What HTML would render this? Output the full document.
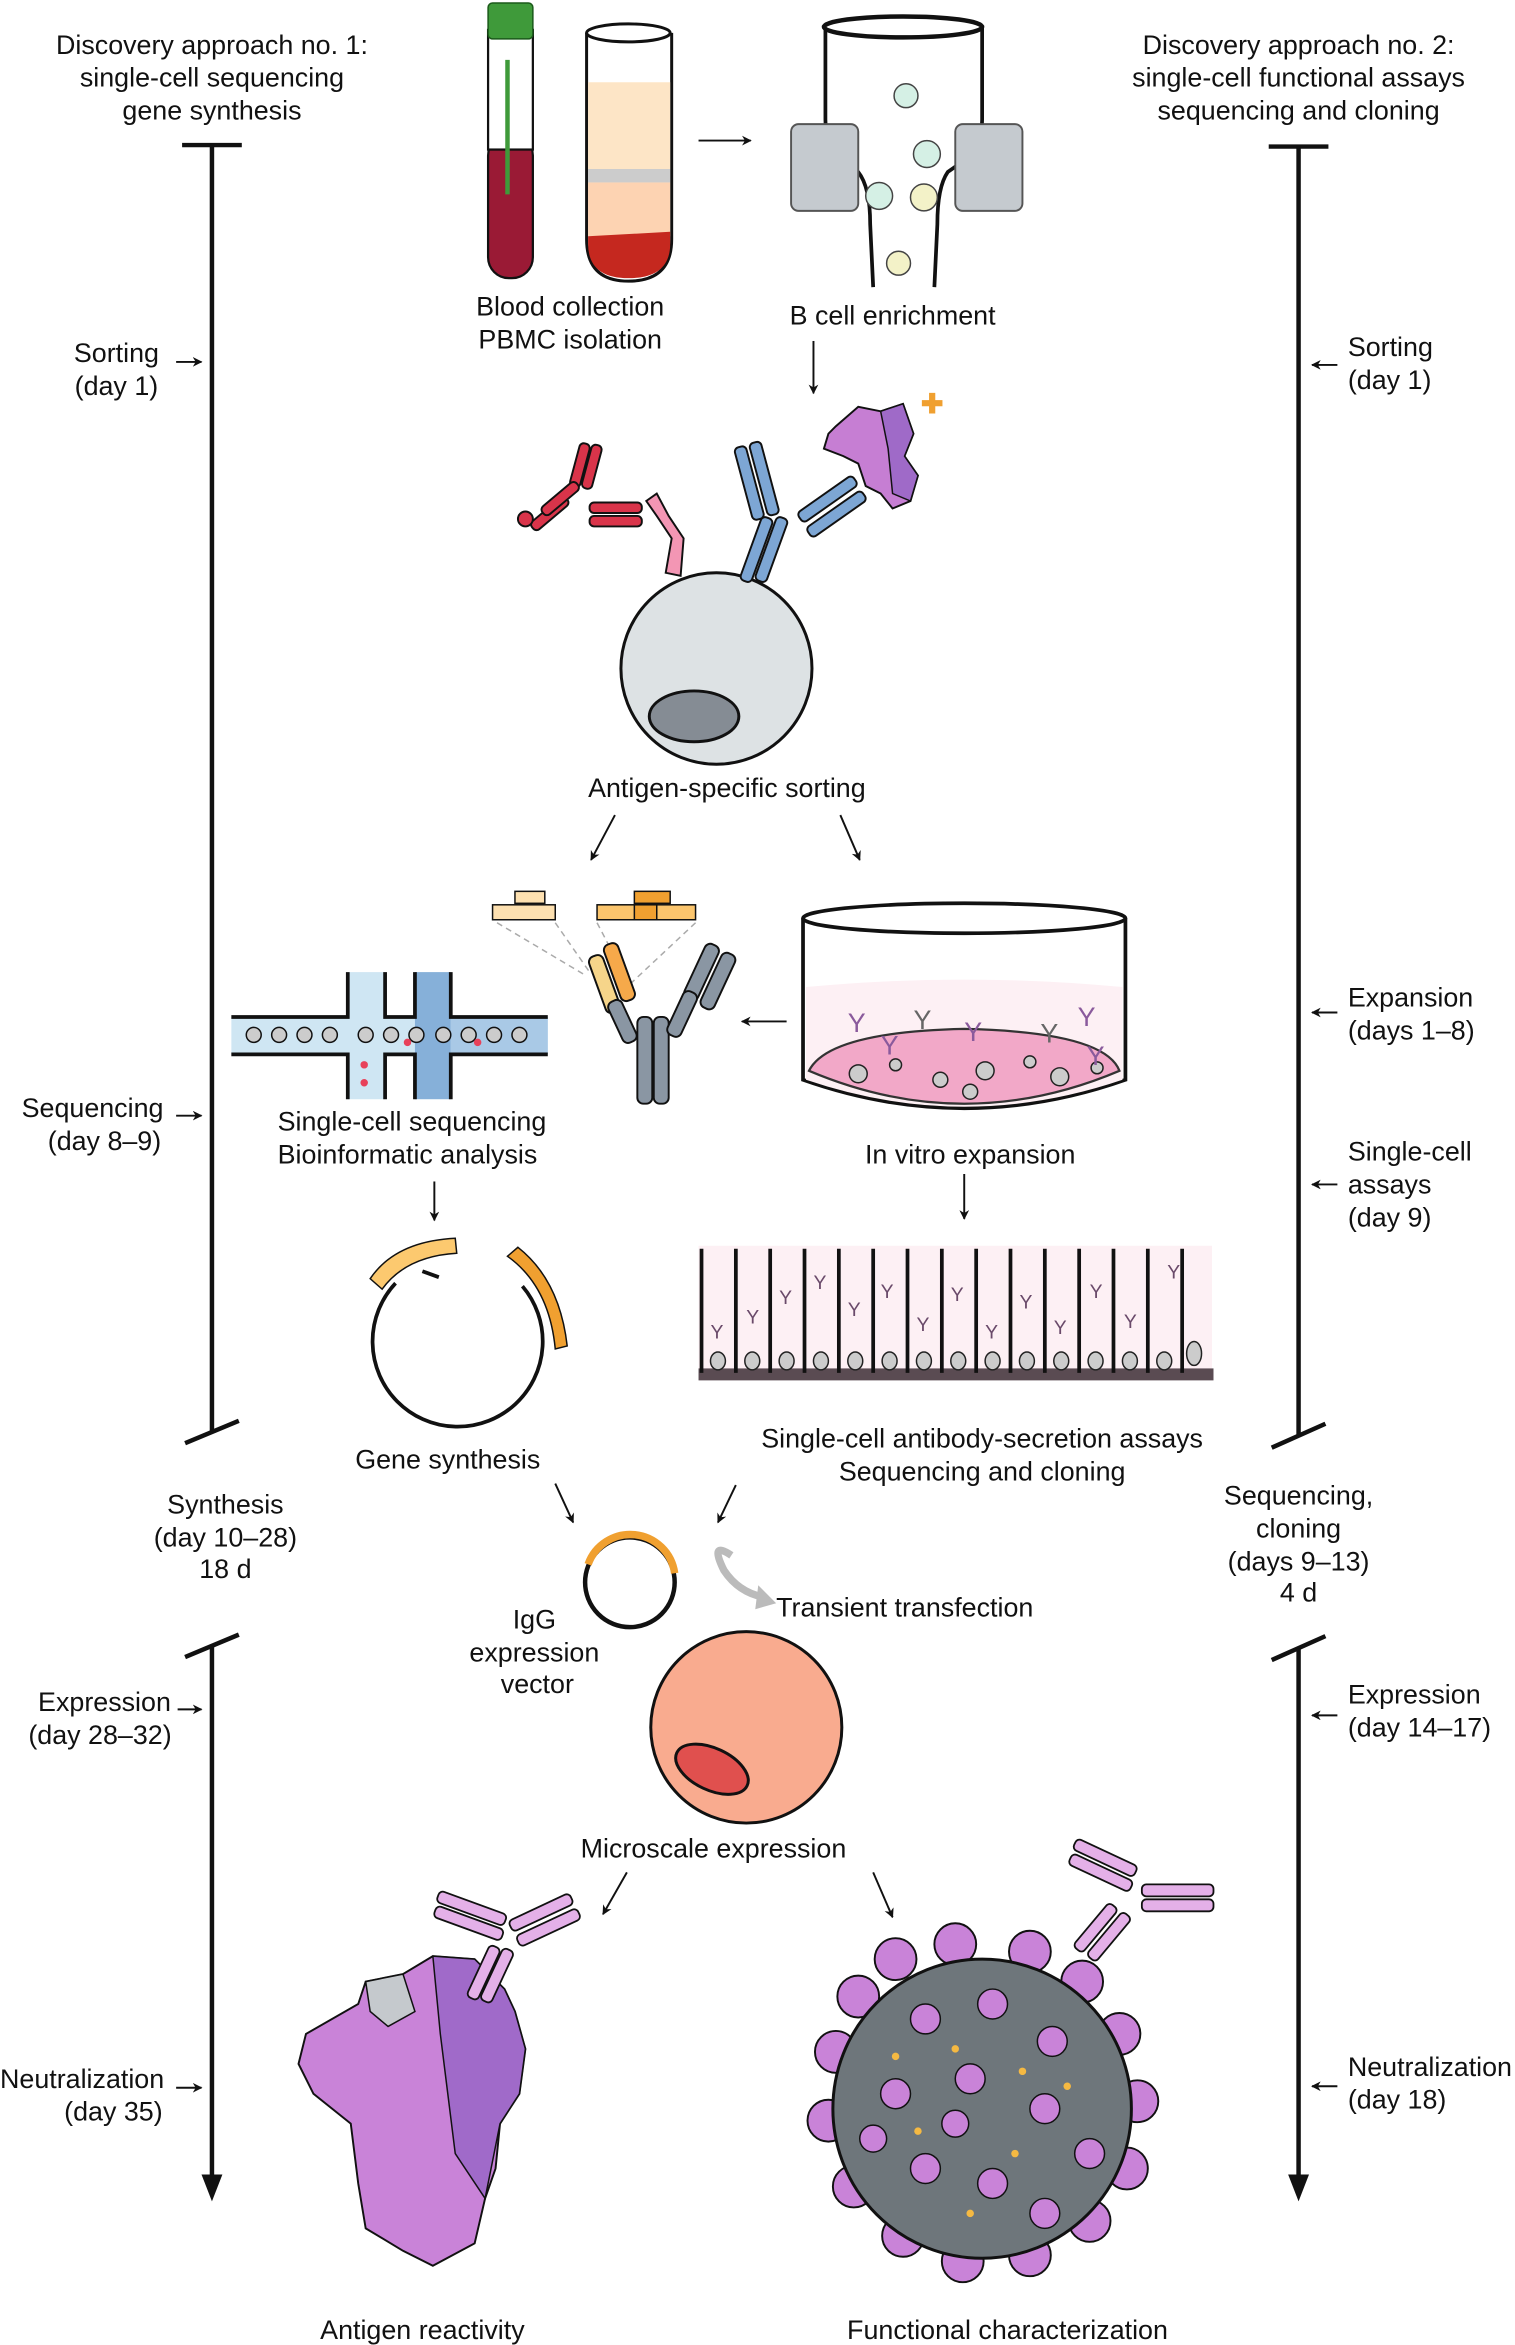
<!DOCTYPE html>
<html><head><meta charset="utf-8"><style>
html,body{margin:0;padding:0;background:#fff;}
svg{display:block;}
text{font-family:"Liberation Sans",sans-serif;font-size:18px;fill:#111;}
</style></head><body>
<svg width="1515" height="2345" viewBox="0 0 1015 1568" preserveAspectRatio="none" xmlns="http://www.w3.org/2000/svg">
<defs>
<marker id="bh" viewBox="0 0 10 10" refX="9" refY="5" markerWidth="5" markerHeight="5" orient="auto"><path d="M0,0 L10,5 L0,10 L3,5 z" fill="#111"/></marker>
</defs>

<g stroke="#111" stroke-width="3" fill="none">
<line x1="122" y1="97" x2="162" y2="97"/>
<line x1="142" y1="97" x2="142" y2="957"/>
<line x1="124" y1="965" x2="160" y2="950"/>
<line x1="124" y1="1108" x2="160" y2="1093"/>
<line x1="142" y1="1100" x2="142" y2="1458"/>
<line x1="850" y1="98" x2="890" y2="98"/>
<line x1="870" y1="98" x2="870" y2="960"/>
<line x1="852" y1="968" x2="888" y2="952"/>
<line x1="852" y1="1110" x2="888" y2="1094"/>
<line x1="870" y1="1102" x2="870" y2="1458"/>
</g>
<path d="M135,1454 L142,1472 L149,1454 z" fill="#111"/>
<path d="M863,1454 L870,1472 L877,1454 z" fill="#111"/>

<g stroke="#111" stroke-width="1.3" marker-end="url(#bh)">
<line x1="118" y1="242" x2="135" y2="242"/>
<line x1="118" y1="746" x2="135" y2="746"/>
<line x1="119" y1="1143" x2="135" y2="1143"/>
<line x1="118" y1="1396" x2="135" y2="1396"/>
<line x1="896" y1="244" x2="879" y2="244"/>
<line x1="896" y1="677" x2="879" y2="677"/>
<line x1="896" y1="792" x2="879" y2="792"/>
<line x1="896" y1="1147" x2="879" y2="1147"/>
<line x1="896" y1="1395" x2="879" y2="1395"/>
<line x1="468" y1="94" x2="503" y2="94"/>
<line x1="545" y1="228" x2="545" y2="263"/>
<line x1="412" y1="545" x2="396" y2="575"/>
<line x1="563" y1="545" x2="576" y2="575"/>
<line x1="527" y1="683" x2="497" y2="683"/>
<line x1="291" y1="790" x2="291" y2="816"/>
<line x1="646" y1="785" x2="646" y2="815"/>
<line x1="372" y1="992" x2="384" y2="1018"/>
<line x1="493" y1="993" x2="481" y2="1018"/>
<line x1="420" y1="1252" x2="404" y2="1280"/>
<line x1="585" y1="1252" x2="598" y2="1282"/>
</g>

<g text-anchor="middle">
<text x="142" y="36">Discovery approach no. 1:</text>
<text x="142" y="58">single-cell sequencing</text>
<text x="142" y="80">gene synthesis</text>
<text x="870" y="36">Discovery approach no. 2:</text>
<text x="870" y="58">single-cell functional assays</text>
<text x="870" y="80">sequencing and cloning</text>
<text x="78" y="242">Sorting</text><text x="78" y="264">(day 1)</text>
<text x="62" y="747">Sequencing</text><text x="70" y="769">(day 8–9)</text>
<text x="151" y="1012">Synthesis</text><text x="151" y="1034">(day 10–28)</text><text x="151" y="1055">18 d</text>
<text x="70" y="1144">Expression</text><text x="67" y="1166">(day 28–32)</text>
<text x="55" y="1396">Neutralization</text><text x="76" y="1418">(day 35)</text>
<text x="870" y="1006">Sequencing,</text><text x="870" y="1028">cloning</text><text x="870" y="1050">(days 9–13)</text><text x="870" y="1071">4 d</text>
<text x="382" y="211">Blood collection</text><text x="382" y="233">PBMC isolation</text>
<text x="598" y="217">B cell enrichment</text>
<text x="487" y="533">Antigen-specific sorting</text>
<text x="642" y="657">CD40L/IL-21/BAFF</text>
<text x="276" y="756">Single-cell sequencing</text><text x="273" y="778">Bioinformatic analysis</text>
<text x="650" y="778">In vitro expansion</text>
<text x="300" y="982">Gene synthesis</text>
<text x="658" y="968">Single-cell antibody-secretion assays</text><text x="658" y="990">Sequencing and cloning</text>
<text x="358" y="1089">IgG</text><text x="358" y="1111">expression</text><text x="360" y="1132">vector</text>
<text x="515" y="1144">CHO</text><text x="515" y="1166">cells</text>
<text x="478" y="1242">Microscale expression</text>
<text x="283" y="1564">Antigen reactivity</text>
<text x="675" y="1564">Functional characterization</text>
</g>
<g>
<text x="903" y="238">Sorting</text><text x="903" y="260">(day 1)</text>
<text x="903" y="673">Expansion</text><text x="903" y="695">(days 1–8)</text>
<text x="903" y="776">Single-cell</text><text x="903" y="798">assays</text><text x="903" y="820">(day 9)</text>
<text x="903" y="1139">Expression</text><text x="903" y="1161">(day 14–17)</text>
<text x="903" y="1388">Neutralization</text><text x="903" y="1410">(day 18)</text>
<text x="520" y="1081">Transient transfection</text>
</g>

<rect x="327" y="90" width="30" height="96" rx="14" fill="#9a1a35" stroke="#111" stroke-width="1.5"/>
<rect x="327" y="20" width="30" height="80" fill="#fff" stroke="#111" stroke-width="1.5"/>
<rect x="327" y="2" width="30" height="24" rx="3" fill="#3f9a3a" stroke="#1b5a1a" stroke-width="1"/>
<line x1="340" y1="40" x2="340" y2="130" stroke="#3f9a3a" stroke-width="3"/>
<path d="M393,22 L393,160 Q393,188 421,188 Q450,188 450,160 L450,22" fill="#fff" stroke="#111" stroke-width="2"/>
<rect x="394" y="55" width="55" height="58" fill="#fde5c6"/>
<rect x="394" y="113" width="55" height="9" fill="#ccc"/>
<rect x="394" y="122" width="55" height="36" fill="#fdd3b2"/>
<path d="M394,158 L449,155 L449,163 Q449,186 421,186 Q394,186 394,163z" fill="#c5281f"/>
<ellipse cx="421" cy="22" rx="28" ry="6" fill="#fff" stroke="#111" stroke-width="2"/>

<path d="M553,18 L553,80 Q553,100 575,115 Q583,125 583,150 L585,192 M658,18 L658,80 Q658,100 635,115 Q628,125 628,150 L626,192" fill="none" stroke="#111" stroke-width="2.5"/>
<ellipse cx="605" cy="18" rx="53" ry="7" fill="#fff" stroke="#111" stroke-width="3"/>
<rect x="530" y="83" width="45" height="58" rx="5" fill="#c5cacf" stroke="#555" stroke-width="1.3"/>
<rect x="640" y="83" width="45" height="58" rx="5" fill="#c5cacf" stroke="#555" stroke-width="1.3"/>
<g stroke="#444" stroke-width="1">
<circle cx="607" cy="64" r="8" fill="#d5f0e5"/><circle cx="621" cy="103" r="9" fill="#d5f0e5"/>
<circle cx="589" cy="131" r="9" fill="#d5f0e5"/><circle cx="619" cy="132" r="9" fill="#f3f2c8"/>
<circle cx="602" cy="176" r="8" fill="#f3f2c8"/>
</g>

<circle cx="480" cy="447" r="64" fill="#dde2e4" stroke="#111" stroke-width="2"/>
<ellipse cx="465" cy="479" rx="30" ry="17" fill="#858c94" stroke="#111" stroke-width="2"/>
<path d="M446,383 L450,360 L440,345 L433,335 L440,330 L448,345 L458,360 L456,385z" fill="#f396b4" stroke="#111" stroke-width="1.3"/>
<g fill="#d9344a" stroke="#111" stroke-width="1.3">
<rect x="385" y="296" width="7" height="30" rx="3" transform="rotate(15 388 311)"/>
<rect x="393" y="297" width="7" height="30" rx="3" transform="rotate(15 396 312)"/>
<rect x="353" y="340" width="30" height="7" rx="3" transform="rotate(-40 368 343)"/>
<rect x="360" y="330" width="30" height="7" rx="3" transform="rotate(-40 375 333)"/>
<rect x="395" y="336" width="35" height="7" rx="3"/>
<rect x="395" y="345" width="35" height="7" rx="3"/>
<circle cx="352" cy="347" r="5"/>
</g>
<g fill="#7da6d4" stroke="#111" stroke-width="1.3">
<rect x="498" y="298" width="8" height="50" rx="3" transform="rotate(-15 502 323)"/>
<rect x="508" y="295" width="8" height="50" rx="3" transform="rotate(-15 512 320)"/>
<rect x="503" y="345" width="8" height="45" rx="3" transform="rotate(20 507 367)"/>
<rect x="513" y="345" width="8" height="45" rx="3" transform="rotate(20 517 367)"/>
<rect x="532" y="330" width="45" height="8" rx="3" transform="rotate(-35 554 334)"/>
<rect x="538" y="340" width="45" height="8" rx="3" transform="rotate(-35 560 344)"/>
</g>
<path d="M560,285 L575,272 L590,275 L605,270 L612,290 L606,305 L615,318 L610,335 L598,340 L590,330 L580,325 L575,310 L565,305 L552,300 L555,290z" fill="#c67ed3" stroke="#111" stroke-width="1.3"/>
<path d="M590,275 L605,270 L612,290 L606,305 L615,318 L610,335 L598,330 L595,300z" fill="#9f6ac8" stroke="#111" stroke-width="1"/>
<text x="617" y="276" style="fill:#f0a030;font-size:18px;font-weight:bold">✚</text>

<g stroke="#aaa" stroke-dasharray="4 3" fill="none"><line x1="333" y1="617" x2="392" y2="652"/><line x1="372" y1="617" x2="395" y2="650"/><line x1="400" y1="617" x2="412" y2="640"/><line x1="466" y1="617" x2="420" y2="660"/></g>
<g stroke="#111" stroke-width="1">
<rect x="330" y="605" width="42" height="10" fill="#fde0b0"/><rect x="345" y="596" width="20" height="8" fill="#fde0b0"/>
<rect x="400" y="605" width="66" height="10" fill="#fbc56d"/><rect x="425" y="605" width="15" height="10" fill="#f0a030"/><rect x="425" y="596" width="24" height="8" fill="#f0a030"/>
</g>
<g fill="#8a96a3" stroke="#111" stroke-width="1.3">
<rect x="427" y="680" width="10" height="58" rx="4"/><rect x="438" y="680" width="10" height="58" rx="4"/>
<rect x="400" y="638" width="10" height="40" rx="4" transform="rotate(-20 405 658)" fill="#f6d58a"/>
<rect x="410" y="630" width="10" height="40" rx="4" transform="rotate(-20 415 650)" fill="#f6a94a"/>
<rect x="412" y="668" width="10" height="30" rx="4" transform="rotate(-25 417 683)"/>
<rect x="465" y="630" width="10" height="40" rx="4" transform="rotate(25 470 650)"/>
<rect x="476" y="636" width="10" height="40" rx="4" transform="rotate(25 481 656)"/>
<rect x="452" y="662" width="10" height="32" rx="4" transform="rotate(25 457 678)"/>
</g>

<rect x="155" y="680" width="212" height="25" fill="#cfe6f3"/>
<rect x="233" y="650" width="25" height="85" fill="#cfe6f3"/>
<rect x="278" y="650" width="24" height="85" fill="#86b0d9"/>
<rect x="302" y="680" width="65" height="25" fill="#a9c9e6"/>
<g stroke="#111" stroke-width="2.5" fill="none">
<path d="M155,680 L233,680 L233,650 M258,650 L258,680 L278,680 L278,650 M302,650 L302,680 L367,680"/>
<path d="M155,705 L233,705 L233,735 M258,735 L258,705 L278,705 L278,735 M302,735 L302,705 L367,705"/>
</g>
<g fill="#ccc" stroke="#111" stroke-width="1">
<circle cx="170" cy="692" r="5"/><circle cx="187" cy="692" r="5"/><circle cx="204" cy="692" r="5"/><circle cx="221" cy="692" r="5"/><circle cx="245" cy="692" r="5"/><circle cx="262" cy="692" r="5"/><circle cx="279" cy="692" r="5"/><circle cx="297" cy="692" r="5"/><circle cx="314" cy="692" r="5"/><circle cx="331" cy="692" r="5"/><circle cx="348" cy="692" r="5"/>
</g>
<g fill="#e8415a"><circle cx="244" cy="712" r="2.5"/><circle cx="244" cy="724" r="2.5"/><circle cx="273" cy="697" r="2.5"/><circle cx="320" cy="697" r="2.5"/></g>

<path d="M538,614 L538,722 Q646,760 754,722 L754,614" fill="#fff" stroke="#111" stroke-width="2.5"/>
<path d="M540,660 Q646,650 752,660 L752,722 Q646,758 540,722z" fill="#fdf0f4"/>
<path d="M542,716 Q555,690 646,688 Q740,690 750,716 Q646,760 542,716z" fill="#f2a8c8" stroke="#333" stroke-width="1.5"/>
<g fill="#ccc" stroke="#222"><circle cx="575" cy="718" r="6"/><circle cx="600" cy="712" r="4"/><circle cx="630" cy="722" r="5"/><circle cx="660" cy="716" r="6"/><circle cx="690" cy="710" r="4"/><circle cx="710" cy="720" r="6"/><circle cx="735" cy="714" r="4"/><circle cx="650" cy="730" r="5"/></g>
<ellipse cx="646" cy="614" rx="108" ry="10" fill="#fff" stroke="#111" stroke-width="2.5"/>
<g><text x="568" y="690" style="fill:#8a5a9c">Y</text><text x="590" y="705" style="fill:#8a5a9c">Y</text><text x="612" y="688" style="fill:#666">Y</text><text x="646" y="696" style="fill:#8a5a9c">Y</text><text x="697" y="697" style="fill:#666">Y</text><text x="722" y="686" style="fill:#8a5a9c">Y</text><text x="728" y="712" style="fill:#8a5a9c">Y</text></g>

<path d="M265,858 A57,57 0 1,0 350,860" fill="none" stroke="#111" stroke-width="2.5"/>
<path d="M283,850 L294,854" stroke="#111" stroke-width="2.5"/>
<path d="M248,855 Q265,830 305,828 L306,838 Q272,840 256,862z" fill="#fcc96f" stroke="#111" stroke-width="1"/>
<path d="M340,840 Q368,860 372,902 L380,900 Q375,856 347,834z" fill="#f0a030" stroke="#111" stroke-width="1"/>

<rect x="468" y="833" width="344" height="86" fill="#fdf0f4"/>
<rect x="468" y="915" width="345" height="8" fill="#5a4b52"/>
<g stroke="#111" stroke-width="2.5">
<line x1="470" y1="835" x2="470" y2="918"/><line x1="493" y1="835" x2="493" y2="918"/><line x1="516" y1="835" x2="516" y2="918"/><line x1="539" y1="835" x2="539" y2="918"/><line x1="562" y1="835" x2="562" y2="918"/><line x1="585" y1="835" x2="585" y2="918"/><line x1="608" y1="835" x2="608" y2="918"/><line x1="631" y1="835" x2="631" y2="918"/><line x1="654" y1="835" x2="654" y2="918"/><line x1="677" y1="835" x2="677" y2="918"/><line x1="700" y1="835" x2="700" y2="918"/><line x1="723" y1="835" x2="723" y2="918"/><line x1="746" y1="835" x2="746" y2="918"/><line x1="769" y1="835" x2="769" y2="918"/><line x1="792" y1="835" x2="792" y2="918"/>
</g>
<g fill="#ccc" stroke="#222"><ellipse cx="481" cy="910" rx="5" ry="6"/><ellipse cx="504" cy="910" rx="5" ry="6"/><ellipse cx="527" cy="910" rx="5" ry="6"/><ellipse cx="550" cy="910" rx="5" ry="6"/><ellipse cx="573" cy="910" rx="5" ry="6"/><ellipse cx="596" cy="910" rx="5" ry="6"/><ellipse cx="619" cy="910" rx="5" ry="6"/><ellipse cx="642" cy="910" rx="5" ry="6"/><ellipse cx="665" cy="910" rx="5" ry="6"/><ellipse cx="688" cy="910" rx="5" ry="6"/><ellipse cx="711" cy="910" rx="5" ry="6"/><ellipse cx="734" cy="910" rx="5" ry="6"/><ellipse cx="757" cy="910" rx="5" ry="6"/><ellipse cx="780" cy="910" rx="5" ry="6"/><ellipse cx="800" cy="905" rx="5" ry="8"/></g>
<g><text x="476" y="895" style="fill:#6a4a6a;font-size:13px">Y</text><text x="500" y="885" style="fill:#6a4a6a;font-size:13px">Y</text><text x="522" y="872" style="fill:#6a4a6a;font-size:13px">Y</text><text x="545" y="862" style="fill:#6a4a6a;font-size:13px">Y</text><text x="568" y="880" style="fill:#6a4a6a;font-size:13px">Y</text><text x="590" y="868" style="fill:#6a4a6a;font-size:13px">Y</text><text x="614" y="890" style="fill:#6a4a6a;font-size:13px">Y</text><text x="637" y="870" style="fill:#6a4a6a;font-size:13px">Y</text><text x="660" y="895" style="fill:#6a4a6a;font-size:13px">Y</text><text x="683" y="875" style="fill:#6a4a6a;font-size:13px">Y</text><text x="706" y="892" style="fill:#6a4a6a;font-size:13px">Y</text><text x="730" y="868" style="fill:#6a4a6a;font-size:13px">Y</text><text x="753" y="888" style="fill:#6a4a6a;font-size:13px">Y</text><text x="782" y="855" style="fill:#6a4a6a;font-size:13px">Y</text></g>

<circle cx="422" cy="1058" r="30" fill="none" stroke="#111" stroke-width="3"/>
<path d="M394,1046 A30,30 0 0,1 452,1052" fill="none" stroke="#f0a030" stroke-width="5"/>
<path d="M490,1040 Q475,1030 485,1050 Q495,1065 512,1068" fill="none" stroke="#bbb" stroke-width="5"/>
<path d="M508,1060 L520,1072 L506,1076z" fill="#bbb"/>

<circle cx="500" cy="1155" r="64" fill="#f9ab8f" stroke="#111" stroke-width="2"/>
<ellipse cx="477" cy="1183" rx="26" ry="14" fill="#e0504e" stroke="#111" stroke-width="2" transform="rotate(25 477 1183)"/>

<path d="M205,1360 L240,1340 L245,1325 L270,1320 L290,1308 L318,1310 L338,1330 L345,1345 L352,1370 L348,1400 L335,1420 L332,1450 L325,1470 L318,1500 L290,1515 L270,1505 L245,1490 L240,1460 L235,1420 L210,1400 L200,1380z" fill="#c983d8" stroke="#111" stroke-width="1.3"/>
<path d="M290,1308 L318,1310 L338,1330 L345,1345 L352,1370 L348,1400 L335,1420 L325,1470 L305,1440 L300,1400 L295,1360z" fill="#a06ac9" stroke="#111" stroke-width="1"/>
<path d="M245,1325 L270,1320 L278,1345 L260,1355 L248,1345z" fill="#c5c9cd" stroke="#111" stroke-width="1"/>
<g fill="#e4b0e8" stroke="#111" stroke-width="1.2">
<rect x="320" y="1300" width="8" height="38" rx="3" transform="rotate(25 324 1319)"/>
<rect x="329" y="1302" width="8" height="38" rx="3" transform="rotate(25 333 1321)"/>
<rect x="292" y="1272" width="48" height="8" rx="3" transform="rotate(20 316 1276)"/>
<rect x="290" y="1282" width="48" height="8" rx="3" transform="rotate(20 314 1286)"/>
<rect x="340" y="1275" width="45" height="8" rx="3" transform="rotate(-25 362 1279)"/>
<rect x="345" y="1285" width="45" height="8" rx="3" transform="rotate(-25 367 1289)"/>
</g>

<g fill="#c983d8" stroke="#111" stroke-width="1.3">
<circle cx="600" cy="1310" r="14"/><circle cx="640" cy="1300" r="14"/><circle cx="690" cy="1305" r="14"/><circle cx="725" cy="1325" r="14"/><circle cx="750" cy="1360" r="14"/><circle cx="762" cy="1405" r="14"/><circle cx="755" cy="1450" r="14"/><circle cx="730" cy="1485" r="14"/><circle cx="690" cy="1508" r="14"/><circle cx="645" cy="1512" r="14"/><circle cx="605" cy="1495" r="14"/><circle cx="572" cy="1462" r="14"/><circle cx="555" cy="1418" r="14"/><circle cx="560" cy="1372" r="14"/><circle cx="575" cy="1335" r="14"/>
</g>
<circle cx="658" cy="1410" r="100" fill="#6e767b" stroke="#111" stroke-width="2"/>
<g fill="#c983d8" stroke="#111" stroke-width="1">
<circle cx="620" cy="1350" r="10"/><circle cx="665" cy="1340" r="10"/><circle cx="705" cy="1365" r="10"/><circle cx="600" cy="1400" r="10"/><circle cx="650" cy="1390" r="10"/><circle cx="700" cy="1410" r="10"/><circle cx="730" cy="1440" r="10"/><circle cx="620" cy="1450" r="10"/><circle cx="665" cy="1460" r="10"/><circle cx="700" cy="1480" r="10"/><circle cx="585" cy="1430" r="9"/><circle cx="640" cy="1420" r="9"/>
</g>
<g fill="#f5b942"><circle cx="640" cy="1370" r="2.5"/><circle cx="685" cy="1385" r="2.5"/><circle cx="615" cy="1425" r="2.5"/><circle cx="680" cy="1440" r="2.5"/><circle cx="715" cy="1395" r="2.5"/><circle cx="650" cy="1480" r="2.5"/><circle cx="600" cy="1375" r="2.5"/></g>
<g fill="#e4b0e8" stroke="#111" stroke-width="1.2">
<rect x="730" y="1270" width="8" height="38" rx="3" transform="rotate(40 734 1289)"/>
<rect x="739" y="1276" width="8" height="38" rx="3" transform="rotate(40 743 1295)"/>
<rect x="718" y="1238" width="45" height="8" rx="3" transform="rotate(25 740 1242)"/>
<rect x="715" y="1248" width="45" height="8" rx="3" transform="rotate(25 737 1252)"/>
<rect x="765" y="1260" width="48" height="8" rx="3"/>
<rect x="765" y="1270" width="48" height="8" rx="3"/>
</g>
</svg>
</body></html>
